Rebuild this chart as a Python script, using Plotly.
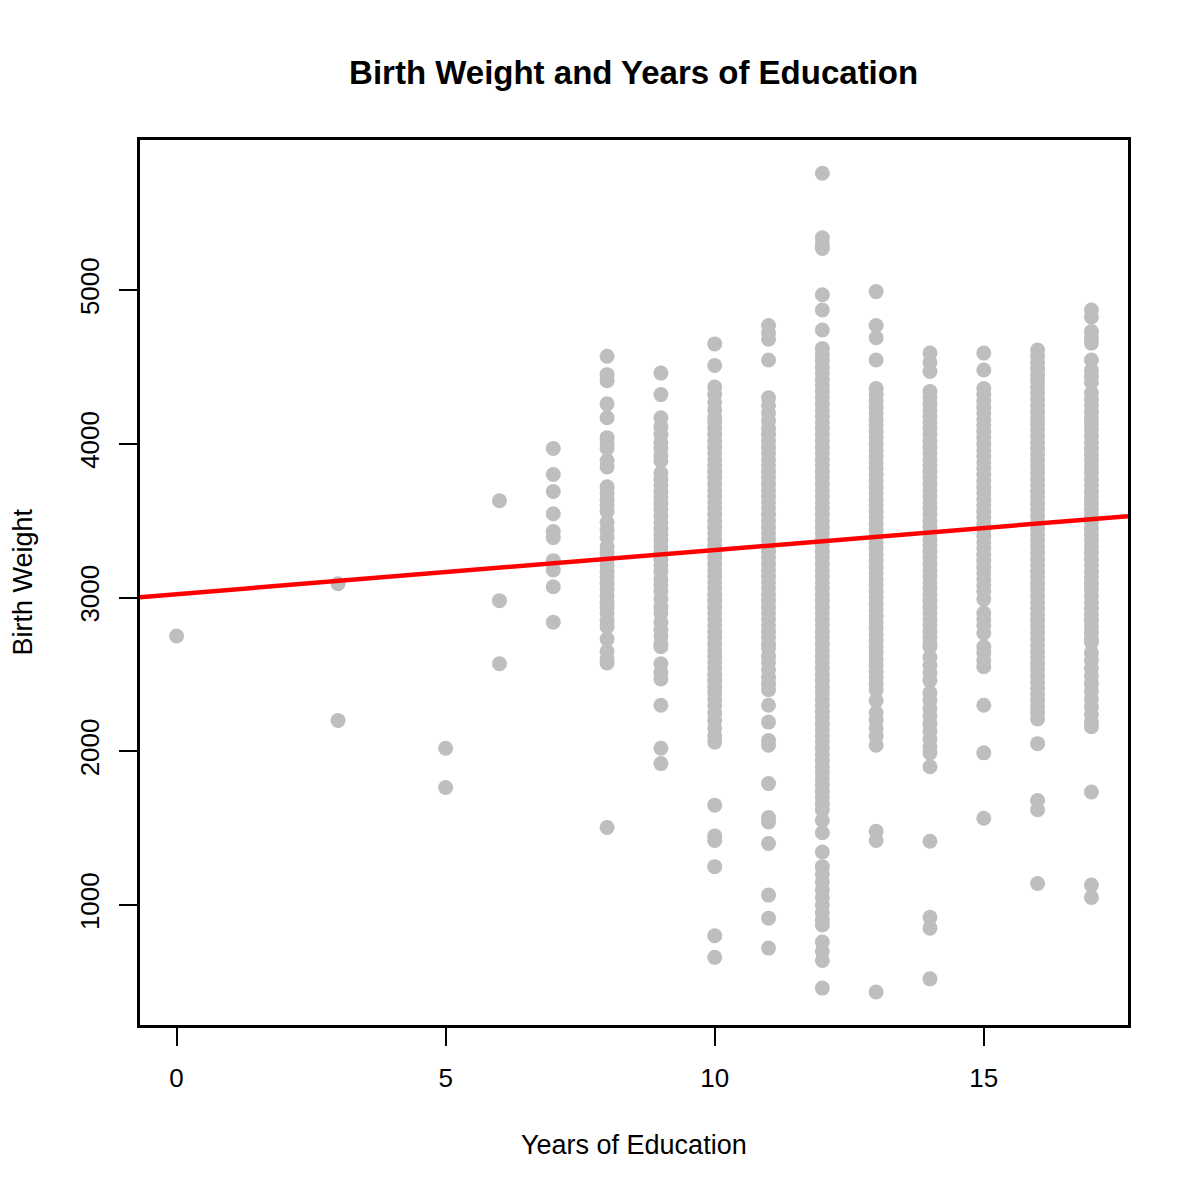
import plotly.graph_objects as go

# ---- data ----
edu0 = [2750]
edu3 = [3090, 2200]
edu5 = [2020, 1765]
edu6 = [3630, 2980, 2570]
edu7 = [3970, 3800, 3690, 3545, 3430, 3390, 3240, 3180, 3070, 2840]
edu8 = [4570, 4450, 4410, 4260, 4170, 4040, 4000, 3970, 3890, 3850, 3720, 3680,
        3640, 3600, 3560, 3490, 3440, 3390, 3330, 3290, 3250, 3210, 3170, 3130,
        3090, 3050, 3010, 2970, 2940, 2900, 2850, 2810, 2730, 2650, 2600, 2575, 1505]
edu9 = [4460, 4320, 4170, 4110, 4060, 4010, 3970, 3920, 3890, 3810, 3770, 3730,
        3690, 3650, 3610, 3570, 3530, 3490, 3450, 3410, 3370, 3330, 3290, 3250,
        3210, 3170, 3120, 3080, 3040, 2990, 2940, 2900, 2840, 2790, 2750, 2700,
        2680, 2570, 2510, 2470, 2300, 2020, 1920]
edu10 = [4650, 4510, 4370, 4320, 4270, 4220, 4170, 4140, 4100, 4060, 4020, 3980,
         3940, 3900, 3860, 3820, 3780, 3740, 3700, 3660, 3620, 3580, 3540, 3500,
         3460, 3420, 3380, 3340, 3300, 3260, 3220, 3180, 3140, 3100, 3060, 3020,
         2980, 2940, 2900, 2860, 2820, 2780, 2740, 2700, 2660, 2620, 2580, 2540,
         2500, 2460, 2420, 2380, 2340, 2300, 2250, 2200, 2150, 2100, 2060, 1650,
         1450, 1420, 1250, 800, 660]
edu11 = [4770, 4720, 4680, 4545, 4300, 4250, 4200, 4150, 4100, 4060, 4020, 3980,
         3940, 3900, 3860, 3820, 3780, 3740, 3700, 3660, 3620, 3580, 3540, 3500,
         3460, 3420, 3380, 3340, 3300, 3260, 3220, 3180, 3140, 3100, 3060, 3020,
         2980, 2940, 2900, 2860, 2820, 2780, 2740, 2700, 2670, 2620, 2580, 2530,
         2480, 2440, 2400, 2300, 2190, 2070, 2040, 1790, 1570, 1540, 1400, 1065,
         915, 720]
edu12 = [5760, 5340, 5300, 5270, 4970, 4870, 4740, 4620, 4580, 4540, 4500, 4460,
         4420, 4380, 4340, 4300, 4260, 4220, 4180, 4140, 4100, 4060, 4020, 3980,
         3940, 3900, 3860, 3820, 3780, 3740, 3700, 3660, 3620, 3580, 3540, 3500,
         3460, 3420, 3380, 3340, 3300, 3260, 3220, 3180, 3140, 3100, 3060, 3020,
         2980, 2940, 2900, 2860, 2820, 2780, 2740, 2700, 2660, 2620, 2580, 2540,
         2500, 2460, 2420, 2380, 2340, 2300, 2260, 2220, 2180, 2140, 2100, 2060,
         2020, 1980, 1940, 1900, 1860, 1820, 1780, 1740, 1700, 1660, 1620, 1550,
         1470, 1345, 1250, 1200, 1150, 1100, 1050, 1000, 950, 900, 870, 760, 700,
         640, 460]
edu13 = [4990, 4770, 4690, 4545, 4360, 4320, 4280, 4240, 4200, 4160, 4120, 4080,
         4040, 4000, 3960, 3920, 3880, 3840, 3800, 3760, 3720, 3680, 3640, 3600,
         3560, 3520, 3480, 3440, 3400, 3360, 3320, 3280, 3240, 3200, 3160, 3120,
         3080, 3040, 3000, 2960, 2920, 2880, 2840, 2800, 2760, 2720, 2680, 2640,
         2600, 2560, 2520, 2480, 2440, 2400, 2330, 2250, 2200, 2150, 2100, 2040,
         1480, 1420, 435]
edu14 = [4590, 4530, 4470, 4340, 4300, 4260, 4220, 4180, 4140, 4100, 4060, 4020,
         3980, 3940, 3900, 3860, 3820, 3780, 3740, 3700, 3660, 3620, 3580, 3540,
         3500, 3460, 3420, 3380, 3340, 3300, 3260, 3220, 3180, 3140, 3100, 3060,
         3020, 2980, 2940, 2900, 2860, 2820, 2780, 2740, 2700, 2680, 2610, 2560,
         2510, 2460, 2380, 2330, 2280, 2230, 2180, 2130, 2080, 2030, 1990, 1900,
         1415, 920, 850, 520]
edu15 = [4590, 4480, 4360, 4320, 4280, 4240, 4200, 4160, 4120, 4080, 4040, 4000,
         3960, 3920, 3880, 3840, 3800, 3760, 3720, 3680, 3640, 3600, 3560, 3520,
         3480, 3440, 3400, 3360, 3320, 3280, 3240, 3200, 3160, 3120, 3080, 3040,
         2990, 2900, 2860, 2820, 2770, 2680, 2640, 2590, 2550, 2300, 1990, 1565]
edu16 = [4610, 4570, 4530, 4490, 4450, 4410, 4370, 4330, 4290, 4250, 4210, 4170,
         4130, 4090, 4050, 4010, 3970, 3930, 3890, 3850, 3810, 3770, 3730, 3690,
         3650, 3610, 3570, 3530, 3490, 3450, 3410, 3370, 3330, 3290, 3250, 3210,
         3170, 3130, 3090, 3050, 3010, 2970, 2930, 2890, 2850, 2810, 2770, 2730,
         2690, 2650, 2610, 2570, 2530, 2490, 2450, 2410, 2370, 2330, 2290, 2250,
         2210, 2050, 1680, 1620, 1140]
edu17 = [4870, 4825, 4730, 4690, 4655, 4545, 4480, 4440, 4400, 4330, 4290, 4250,
         4210, 4170, 4130, 4090, 4050, 4010, 3970, 3930, 3890, 3850, 3810, 3770,
         3730, 3690, 3650, 3610, 3570, 3530, 3490, 3450, 3410, 3370, 3330, 3290,
         3250, 3210, 3170, 3130, 3090, 3050, 3010, 2970, 2930, 2890, 2850, 2810,
         2770, 2730, 2710, 2640, 2590, 2540, 2490, 2440, 2390, 2340, 2290, 2240,
         2190, 2160, 1735, 1130, 1050]

columns = {0: edu0, 3: edu3, 5: edu5, 6: edu6, 7: edu7, 8: edu8, 9: edu9,
           10: edu10, 11: edu11, 12: edu12, 13: edu13, 14: edu14, 15: edu15,
           16: edu16, 17: edu17}

# regression line
fit_intercept = 3022
fit_slope = 28.7

x_ticks = [0, 5, 10, 15]
y_ticks = [1000, 2000, 3000, 4000, 5000]
x_range = [-0.68, 17.68]
y_range = [220, 5976]

title_text = "Birth Weight and Years of Education"
x_title = "Years of Education"
y_title = "Birth Weight"

# ---- build figure ----
xs, ys = [], []
for k, vals in columns.items():
    xs += [k] * len(vals)
    ys += vals

fig = go.Figure()
fig.add_trace(go.Scatter(
    x=xs, y=ys, mode="markers",
    marker=dict(color="#bebebe", size=15, line=dict(width=0)),
    hoverinfo="skip", showlegend=False))
fig.add_trace(go.Scatter(
    x=x_range, y=[fit_intercept + fit_slope * v for v in x_range],
    mode="lines", line=dict(color="#ff0000", width=4.5),
    hoverinfo="skip", showlegend=False))

font = "Liberation Sans, Arial, Helvetica, sans-serif"
axis_common = dict(showgrid=False, zeroline=False, showline=True, linecolor="black",
                   linewidth=2.5, mirror=True, ticks="outside", ticklen=18,
                   tickwidth=2, tickcolor="black",
                   tickfont=dict(family=font, size=26, color="black"))
fig.update_layout(
    width=1200, height=1200,
    margin=dict(l=140, r=72, t=140, b=175),
    paper_bgcolor="white", plot_bgcolor="white",
    title=dict(text="<b>" + title_text + "</b>", x=0.528, xanchor="center",
               y=1 - 72 / 1200, yanchor="middle", yref="container",
               font=dict(family=font, size=33, color="black")),
    xaxis=dict(range=x_range, tickvals=x_ticks, ticklabelstandoff=10, **axis_common),
    yaxis=dict(range=y_range, tickvals=y_ticks, tickangle=-90, ticklabelstandoff=10,
               **axis_common),
    annotations=[
        dict(text=x_title, xref="paper", yref="paper", x=0.5, y=(1025 - 1145) / 885,
             xanchor="center", yanchor="middle", showarrow=False,
             font=dict(family=font, size=27, color="black")),
        dict(text=y_title, xref="paper", yref="paper", x=(22 - 140) / 988, y=0.5,
             xanchor="center", yanchor="middle", showarrow=False, textangle=-90,
             font=dict(family=font, size=27, color="black")),
    ],
)
fig.write_html("out.html")
